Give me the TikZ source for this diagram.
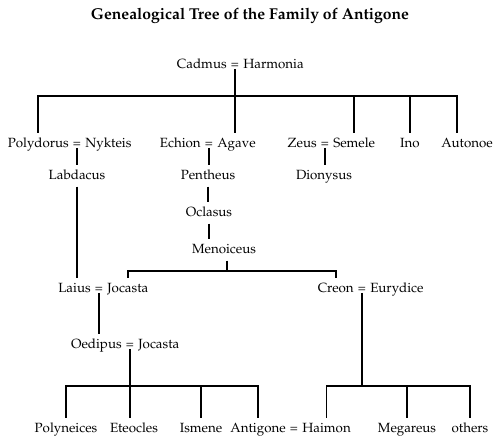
\documentclass[tikz,border=0pt]{standalone}
\usepackage[T1]{fontenc}
\usepackage{mathpazo}
\begin{document}
\begin{tikzpicture}[x=0.75pt,y=-0.75pt,line width=1.4pt,
  every node/.style={font=\fontsize{10}{12}\selectfont,inner sep=0pt},
  nm/.style={text height=7pt,text depth=2pt,inner xsep=0pt,inner ysep=3pt,anchor=base},
  eqs/.style={text height=7pt,text depth=0pt,inner xsep=1.8pt,inner ysep=0pt,anchor=base},
  ttl/.style={font=\fontsize{11.8}{14}\selectfont\bfseries}]
\useasboundingbox (0,0) rectangle (500,443);
\node[ttl] (title) at (250,16) {Genealogical Tree of the Family of Antigone};
% row 1
\node[eqs] (eqCH) at (235,68) {=};
\node[nm,anchor=base east] (Cadmus) at (eqCH.base west) {Cadmus};
\node[nm,anchor=base west] (Harmonia) at (eqCH.base east) {Harmonia};
% row 2
\node[eqs] (eqPN) at (77,147) {=};
\node[nm,anchor=base east] (Polydorus) at (eqPN.base west) {Polydorus};
\node[nm,anchor=base west] (Nykteis) at (eqPN.base east) {Nykteis};
\node[eqs] (eqEA) at (209,147) {=};
\node[nm,anchor=base east] (Echion) at (eqEA.base west) {Echion};
\node[nm,anchor=base west] (Agave) at (eqEA.base east) {Agave};
\node[eqs] (eqZS) at (325,147) {=};
\node[nm,anchor=base east] (Zeus) at (eqZS.base west) {Zeus};
\node[nm,anchor=base west] (Semele) at (eqZS.base east) {Semele};
\node[nm] (Ino) at (410,147) {Ino};
\node[nm] (Autonoe) at (467,147) {Autonoe};
% row 3
\node[nm] (Labdacus) at (77,179) {Labdacus};
\node[nm] (Pentheus) at (208,179) {Pentheus};
\node[nm] (Dionysus) at (324,179) {Dionysus};
\node[nm] (Oclasus) at (209,216) {Oclasus};
\node[nm] (Menoiceus) at (224,253) {Menoiceus};
% row 5
\node[eqs] (eqLJ) at (99,292) {=};
\node[nm,anchor=base east] (Laius) at (eqLJ.base west) {Laius};
\node[nm,anchor=base west] (Jocasta) at (eqLJ.base east) {Jocasta};
\node[eqs] (eqCE) at (362,292) {=};
\node[nm,anchor=base east] (Creon) at (eqCE.base west) {Creon};
\node[nm,anchor=base west] (Eurydice) at (eqCE.base east) {Eurydice};
% Oedipus
\node[eqs] (eqOJ) at (130,348) {=};
\node[nm,anchor=base east] (Oedipus) at (eqOJ.base west) {Oedipus};
\node[nm,anchor=base west] (Jocasta2) at (eqOJ.base east) {Jocasta};
% bottom row
\node[nm] (Polyneices) at (66,432) {Polyneices};
\node[nm] (Eteocles) at (134,432) {Eteocles};
\node[nm] (Ismene) at (201,432) {Ismene};
\node[eqs] (eqAH) at (294,432) {=};
\node[nm,anchor=base east] (Antigone) at (eqAH.base west) {Antigone};
\node[nm,anchor=base west] (Haimon) at (eqAH.base east) {Haimon};
\node[nm] (Megareus) at (407,432) {Megareus};
\node[nm] (others) at (470,432) {others};
% bars
\coordinate (bar1) at (0,96);
\coordinate (bar2) at (0,271);
\coordinate (bar3) at (0,386);
% connectors
\draw (eqCH.south) -- (eqCH.south |- Agave.north);
\draw (Polydorus.north) |- ([xshift=-7.5pt]Autonoe.north |- bar1) -- ([xshift=-7.5pt]Autonoe.north);
\draw (Semele.north) -- (Semele.north |- bar1);
\draw (Ino.north) -- (Ino.north |- bar1);
\draw (eqPN.south) -- (eqPN.south |- Labdacus.north);
\draw (eqEA.south) -- (eqEA.south |- Pentheus.north);
\draw (eqZS.south) -- (eqZS.south |- Dionysus.north);
\draw (Pentheus.south) -- (Pentheus.south |- Oclasus.north);
\draw (Oclasus.south) -- (Oclasus.south |- Menoiceus.north);
\draw (Labdacus.south) -- (Labdacus.south |- Laius.north);
\draw ([xshift=2.5pt]Menoiceus.south) -- ([xshift=2.5pt]Menoiceus.south |- bar2);
\draw (Jocasta.north) |- (Creon.north |- bar2) -- (Creon.north);
\draw (eqLJ.south) -- (eqLJ.south |- Oedipus.north);
\draw (eqOJ.south) -- (eqOJ.south |- Eteocles.north);
\draw (Polyneices.north) |- (Antigone.north |- bar3) -- (Antigone.north);
\draw (Ismene.north) -- (Ismene.north |- bar3);
\draw (eqCE.south) -- (eqCE.south |- bar3);
\draw (Haimon.north) |- (others.north |- bar3) -- (others.north);
\draw (Megareus.north) -- (Megareus.north |- bar3);
\end{tikzpicture}
\end{document}
